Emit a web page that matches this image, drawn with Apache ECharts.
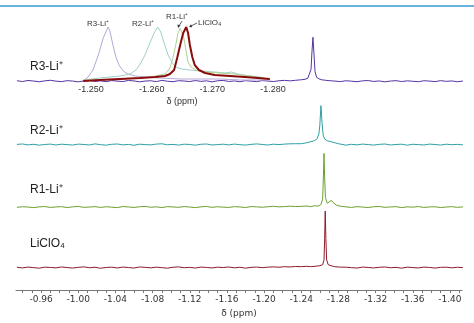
<!DOCTYPE html>
<html><head><meta charset="utf-8">
<script src="https://cdn.jsdelivr.net/npm/echarts@6/dist/echarts.min.js"></script>
<style>html,body{margin:0;padding:0;background:#fff}#c{width:474px;height:323px}</style>
</head><body><div id="c"></div>
<script>
// ---- data ----
const traceNames = ['R3-Li⁺', 'R2-Li⁺', 'R1-Li⁺', 'LiClO₄'];
const mainTickLabels = [-0.96, -1.00, -1.04, -1.08, -1.12, -1.16, -1.20, -1.24, -1.28, -1.32, -1.36, -1.40];
const insetTickLabels = [-1.250, -1.260, -1.270, -1.280];
const basePpm = [-0.934,-0.940,-0.946,-0.952,-0.958,-0.964,-0.970,-0.976,-0.982,-0.988,
-0.994,-1.000,-1.006,-1.012,-1.018,-1.024,-1.030,-1.036,-1.042,-1.048,
-1.054,-1.060,-1.066,-1.072,-1.078,-1.084,-1.090,-1.096,-1.102,-1.108,
-1.114,-1.120,-1.126,-1.132,-1.138,-1.144,-1.150,-1.156,-1.162,-1.168,
-1.174,-1.180,-1.186,-1.192,-1.198,-1.204,-1.210,-1.216,-1.222,-1.228,
-1.234,-1.240,-1.246,-1.252,-1.258,-1.264,-1.270,-1.276,-1.282,-1.288,
-1.294,-1.300,-1.306,-1.312,-1.318,-1.324,-1.330,-1.336,-1.342,-1.348,
-1.354,-1.360,-1.366,-1.372,-1.378,-1.384,-1.390,-1.396,-1.402,-1.408,
-1.414];
const r3Noise = [0.5,-0.3,0.8,0.2,-0.5,0.4,1.0,0.1,-0.4,0.6,
0.2,-0.6,0.3,0.9,-0.2,0.4,-0.5,0.7,0.1,-0.3,
0.8,0.3,-0.6,0.2,0.5,-0.4,0.9,0.0,-0.5,0.6,
0.2,-0.3,0.7,-0.1,0.4,-0.6,0.5,0.8,-0.2,0.3,
-0.5,0.6,0.1,-0.4,0.7,0.2,-0.3,0.5,0.9,0.4,
1.0,1.2,1.5,2.0,1.5,1.0,0.6,0.2,-0.4,0.5,
0.1,-0.5,0.4,0.7,-0.2,0.3,-0.6,0.2,0.6,-0.3,
0.4,0.0,-0.5,0.5,0.2,-0.4,0.6,-0.1,0.3,-0.5,
0.2];
const r2Noise = [0.3,0.7,-0.2,0.4,-0.5,0.2,0.6,-0.3,0.5,0.1,
-0.4,0.6,0.2,-0.3,0.8,0.0,-0.5,0.4,0.7,-0.2,
0.3,-0.6,0.5,0.1,-0.2,0.6,0.9,-0.1,0.3,-0.4,
0.5,0.2,-0.5,0.4,0.7,-0.3,0.1,0.5,-0.2,0.6,
0.0,-0.4,0.3,0.8,0.2,-0.3,0.5,0.1,0.6,0.9,
1.0,1.5,2.5,4.0,5.0,3.0,2.0,0.8,0.2,-0.5,
0.4,-0.2,0.6,0.1,-0.4,0.3,0.7,-0.3,0.2,0.5,
-0.5,0.4,0.1,-0.3,0.6,0.2,-0.4,0.5,0.0,0.3,
-0.2];
const r1Noise = [-0.2,0.4,0.1,-0.5,0.3,0.6,-0.3,0.2,0.5,-0.4,
0.3,0.7,-0.2,0.1,0.5,-0.3,0.4,0.0,-0.5,0.6,
0.2,-0.3,0.4,0.8,-0.1,0.3,-0.4,0.5,0.2,-0.2,
0.6,0.1,-0.5,0.3,0.7,-0.2,0.4,0.0,-0.3,0.5,
0.2,-0.4,0.6,0.3,-0.1,0.4,0.9,0.3,0.5,1.0,
0.6,0.8,1.2,1.5,2.0,3.0,3.0,2.0,0.8,0.3,
-0.3,0.5,0.1,-0.4,0.4,0.7,-0.2,0.2,0.5,-0.5,
0.3,0.0,0.6,-0.3,0.2,0.4,-0.4,0.1,0.5,-0.2,
0.3];
const liNoise = [0.4,-0.3,0.6,0.0,-0.5,0.5,0.2,-0.2,0.7,0.1,
-0.4,0.3,0.8,-0.1,0.4,-0.6,0.2,0.5,-0.3,0.6,
0.1,-0.4,0.7,0.3,-0.2,0.5,0.0,-0.5,0.4,0.8,
-0.1,0.3,-0.4,0.6,0.2,-0.3,0.5,0.1,0.7,-0.2,
0.4,-0.5,0.3,0.6,0.0,0.5,0.8,0.4,1.0,0.7,
1.2,1.0,1.4,1.8,2.2,3.0,2.0,0.6,-0.2,0.5,
0.0,-0.4,0.6,0.2,-0.3,0.4,0.7,-0.1,0.3,-0.5,
0.5,0.1,-0.3,0.6,0.2,-0.4,0.3,0.5,-0.2,0.4,
0.0];
const r3Peak = [[-1.240,1.5],[-1.244,2],[-1.247,3],[-1.249,5],[-1.2505,12],[-1.2515,30],[-1.2526,45],[-1.2537,28],[-1.2548,10],[-1.2565,4],[-1.259,2.5],[-1.262,1.5],[-1.266,1]];
const r2Peak = [[-1.240,1],[-1.246,2],[-1.250,3],[-1.254,4],[-1.257,6],[-1.259,11],[-1.2600,20],[-1.2612,40],[-1.2624,22],[-1.2636,10],[-1.265,6],[-1.268,4],[-1.272,3],[-1.276,2],[-1.280,1]];
const r1Peak = [[-1.250,0.5],[-1.255,1.5],[-1.258,1],[-1.261,2.5],[-1.263,8],[-1.2638,30],[-1.2645,55],[-1.2652,30],[-1.266,10],[-1.268,4],[-1.270,3],[-1.2725,7],[-1.275,4],[-1.278,2],[-1.282,1]];
const liPeak = [[-1.250,1],[-1.256,1.5],[-1.260,2],[-1.263,3],[-1.2645,8],[-1.2652,30],[-1.2658,58],[-1.2665,30],[-1.2673,8],[-1.269,3],[-1.272,2],[-1.276,1],[-1.282,0.5]];
const r3Inset = [[-1.2487,1],[-1.2495,5],[-1.2503,12],[-1.2512,27],[-1.2520,44],[-1.2528,55],[-1.2531,51],[-1.2536,37],[-1.2541,25],[-1.2546,17],[-1.2553,11],[-1.2561,8],[-1.2573,6],[-1.2589,5],[-1.2614,4],[-1.2647,3],[-1.2680,3],[-1.2713,3],[-1.2746,2],[-1.2779,2],[-1.2795,2]];
const r2Inset = [[-1.2487,2],[-1.2515,4],[-1.2548,6],[-1.2564,8],[-1.2574,12],[-1.2581,18],[-1.2589,27],[-1.2597,39],[-1.2604,49],[-1.2610,55],[-1.2615,50],[-1.2620,40],[-1.2627,27],[-1.2634,19],[-1.2640,15],[-1.2650,13],[-1.2663,12],[-1.2680,11],[-1.2704,10],[-1.2721,9],[-1.2732,10],[-1.2742,8],[-1.2762,6],[-1.2779,5],[-1.2795,2]];
const r1Inset = [[-1.2487,2],[-1.2548,3],[-1.2597,5],[-1.2622,8],[-1.2630,14],[-1.2635,24],[-1.2640,38],[-1.2643,48],[-1.2647,54],[-1.2650,53],[-1.2653,44],[-1.2657,30],[-1.2660,20],[-1.2665,15],[-1.2673,12],[-1.2688,10],[-1.2713,9],[-1.2737,8],[-1.2762,6],[-1.2782,4],[-1.2795,2]];
const liInset = [[-1.2487,1],[-1.2515,2],[-1.2548,3],[-1.2581,4],[-1.2606,5],[-1.2622,6],[-1.2630,8],[-1.2637,12],[-1.2642,24],[-1.2647,37],[-1.2652,49],[-1.2657,55],[-1.2660,49],[-1.2663,37],[-1.2667,25],[-1.2671,17],[-1.2678,12],[-1.2688,9],[-1.2704,7],[-1.2729,6],[-1.2754,5],[-1.2775,4],[-1.2795,3]];

// ---- layout / style ----
const traceOffset = [214, 149, 85, 23];
const mainColors = ['#5433a3', '#2f9fa6', '#6c9f2f', '#8e1a2a'];
const insetColors = ['#b6a6d8', '#9fd0cc', '#aed38f', '#8b0c0c'];

function build(noise, peak, off) {
  const xs = peak.map(p => p[0]);
  const lo = Math.min(...xs), hi = Math.max(...xs);
  const pts = basePpm.map((x, i) => [x, noise[i]]).filter(p => p[0] < lo || p[0] > hi).concat(peak);
  pts.sort((a, b) => b[0] - a[0]);
  return pts.map(p => [p[0], p[1] + off]);
}
const mainData = [build(r3Noise, r3Peak, traceOffset[0]), build(r2Noise, r2Peak, traceOffset[1]),
                  build(r1Noise, r1Peak, traceOffset[2]), build(liNoise, liPeak, traceOffset[3])];
const insetData = [r3Inset, r2Inset, r1Inset, liInset];

const minorTicks = [];
for (let k = 94; k <= 141; k++) minorTicks.push(-k / 100);

const chart = echarts.init(document.getElementById('c'), null, {renderer: 'canvas'});
const series = [];
mainData.forEach((d, i) => series.push({type: 'line', xAxisIndex: 0, yAxisIndex: 0, data: d, symbol: 'none',
  lineStyle: {color: mainColors[i], width: 1}, z: 3, animation: false}));
insetData.forEach((d, i) => series.push({type: 'line', xAxisIndex: 1, yAxisIndex: 1, data: d, symbol: 'none',
  lineStyle: {color: insetColors[i], width: i === 3 ? 2 : 1}, z: i === 3 ? 5 : 4, animation: false}));

const labelFont = '12px "Liberation Sans", Arial, sans-serif';
const smallFont = '8px "Liberation Sans", Arial, sans-serif';
const mainLabelY = [67, 131, 190, 244];
const graphic = [
  {type: 'line', shape: {x1: 0, y1: 6, x2: 474, y2: 6}, style: {stroke: '#6cb2de', lineWidth: 2}},
];
traceNames.forEach((t, i) => graphic.push({type: 'text', x: 30, y: mainLabelY[i],
  style: {text: t, font: labelFont, fill: '#222', verticalAlign: 'middle'}}));
const insetLabelPos = [[87, 24], [132, 24], [166, 17], [198, 23]];
traceNames.forEach((t, i) => graphic.push({type: 'text', x: insetLabelPos[i][0], y: insetLabelPos[i][1],
  style: {text: t, font: smallFont, fill: '#333', verticalAlign: 'middle'}}));
// arrows
graphic.push({type: 'line', shape: {x1: 182, y1: 21, x2: 179, y2: 26}, style: {stroke: '#333', lineWidth: 0.8}});
graphic.push({type: 'polygon', shape: {points: [[178, 28], [177.5, 24.5], [180.5, 25.5]]}, style: {fill: '#333'}});
graphic.push({type: 'line', shape: {x1: 197, y1: 23, x2: 191, y2: 26}, style: {stroke: '#333', lineWidth: 0.8}});
graphic.push({type: 'polygon', shape: {points: [[189, 27], [191, 24.3], [192.3, 27.3]]}, style: {fill: '#333'}});

chart.setOption({
  backgroundColor: '#fff',
  animation: false,
  grid: [
    {left: 16, right: 12, top: 10, bottom: 26},
    {left: 82, top: 22, width: 200, height: 60}
  ],
  xAxis: [
    {type: 'value', gridIndex: 0, inverse: true, min: -1.413, max: -0.933,
     axisLine: {lineStyle: {color: '#777', width: 1}},
     axisTick: {customValues: minorTicks, length: 3, lineStyle: {color: '#777'}},
     axisLabel: {customValues: mainTickLabels, formatter: v => v.toFixed(2), fontSize: 9,
       fontFamily: 'DejaVu Sans', color: '#333', margin: 5},
     splitLine: {show: false},
     name: 'δ (ppm)', nameLocation: 'middle', nameGap: 16,
     nameTextStyle: {fontSize: 9, fontFamily: 'DejaVu Sans', color: '#333'}},
    {type: 'value', gridIndex: 1, inverse: true, min: -1.2815, max: -1.2485,
     axisLine: {show: false}, axisTick: {show: false},
     axisLabel: {customValues: insetTickLabels, formatter: v => v.toFixed(3), fontSize: 9,
       fontFamily: '"Liberation Sans", Arial', color: '#333', margin: 3},
     splitLine: {show: false},
     name: 'δ (ppm)', nameLocation: 'middle', nameGap: 15,
     nameTextStyle: {fontSize: 9, fontFamily: '"Liberation Sans", Arial', color: '#333'}}
  ],
  yAxis: [
    {type: 'value', gridIndex: 0, min: 0, max: 287, show: false},
    {type: 'value', gridIndex: 1, min: 0, max: 60, show: false}
  ],
  graphic: graphic,
  series: series
});
</script></body></html>
